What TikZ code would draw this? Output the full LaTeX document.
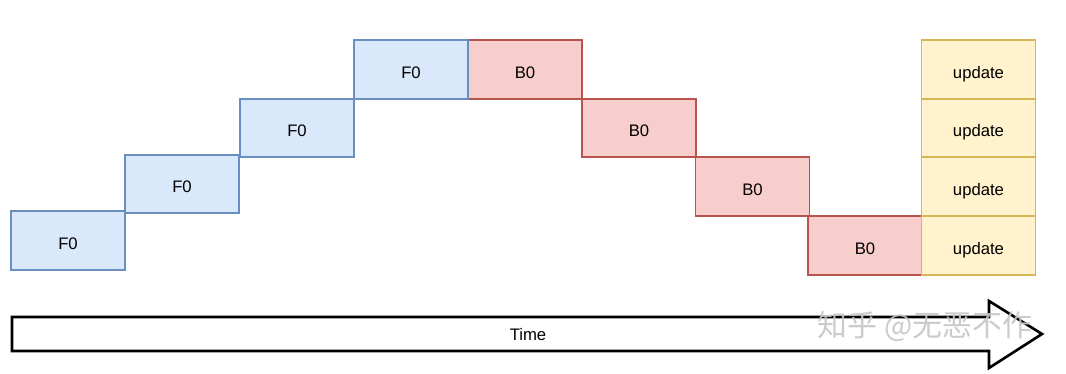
\documentclass[tikz,border=0pt]{standalone}
\usepackage{fontspec}
\setmainfont{Liberation Sans}
\newfontfamily\cjkfont{Noto Sans CJK SC}
\definecolor{fwdfill}{HTML}{DAE8FC}
\definecolor{fwdline}{HTML}{6C8EBF}
\definecolor{bwdfill}{HTML}{F8CECC}
\definecolor{bwdline}{HTML}{B85450}
\definecolor{updfill}{HTML}{FFF2CC}
\definecolor{updline}{HTML}{D6B656}
\begin{document}
\begin{tikzpicture}[x=0.02cm,y=-0.02cm,
    stage/.style={rectangle,draw,line width=1.1pt,minimum width=2.28cm,
      minimum height=1.17cm,inner sep=0pt,text height=10pt,text depth=0pt,
      font=\fontsize{9.5}{11}\selectfont},
    fwd/.style={stage,fill=fwdfill,draw=fwdline},
    bwd/.style={stage,fill=bwdfill,draw=bwdline},
    upd/.style={stage,fill=updfill,draw=updline}]
  \useasboundingbox (0,0) rectangle (1066,374);
  % backward pass
  \node[bwd] (b4) at (865,245.5) {B0};
  \node[bwd] (b3) at (752.5,186.5) {B0};
  \node[bwd] (b2) at (639,128) {B0};
  \node[bwd] (b1) at (525,69.5) {B0};
  % forward pass
  \node[fwd] (f1) at (68,240.5) {F0};
  \node[fwd] (f2) at (182,184) {F0};
  \node[fwd] (f3) at (297,128) {F0};
  \node[fwd] (f4) at (411,69.5) {F0};
  % optimizer step
  \node[upd] (u1) at (978.5,69.5) {update};
  \node[upd] (u2) at (978.5,128) {update};
  \node[upd] (u3) at (978.5,186.5) {update};
  \node[upd] (u4) at (978.5,245.5) {update};
  % time axis
  \draw[line width=1.5pt,fill=white,line join=miter]
    (12,317) -- (989,317) -- (989,301) -- (1042,334)
    -- (989,368) -- (989,351) -- (12,351) -- cycle;
  \node[font=\fontsize{9.5}{11}\selectfont] (time) at (528,335) {Time};
  \node[font=\cjkfont\fontsize{17}{20}\selectfont,text=gray!45,opacity=0.9]
    (mark) at (925,327) {知乎 @无恶不作};
\end{tikzpicture}
\end{document}
